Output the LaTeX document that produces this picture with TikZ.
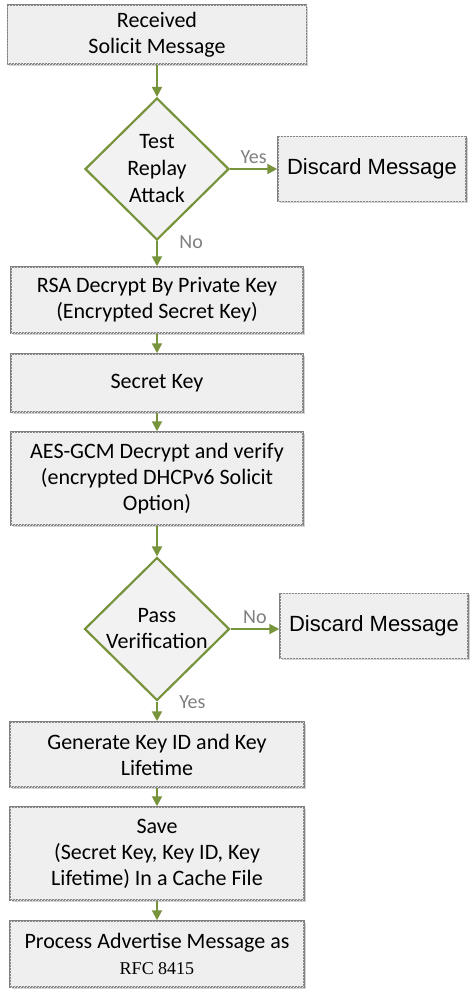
\documentclass[tikz,border=0pt]{standalone}
\usepackage{xcolor}
\usepackage{fontspec}
\setmainfont{Carlito}
\newfontfamily\arialfont{Liberation Sans}
\newfontfamily\timesfont{Liberation Serif}
\usetikzlibrary{positioning,shapes,shadows,patterns}
\usetikzlibrary{arrows.meta,arrows}
\definecolor{olivegreen}{HTML}{77933C}
\definecolor{boxgray}{HTML}{ECECEC}
\definecolor{stripegray}{HTML}{F6F6F6}
\definecolor{edgegray}{HTML}{7F7F7F}
\tikzset{step box/.style={rectangle,draw=edgegray,line width=1.5pt,fill=boxgray,
    postaction={pattern=north east lines,pattern color=stripegray},
    drop shadow={shadow xshift=1.5pt,shadow yshift=-1.5pt,opacity=0.35,fill=gray},
    minimum width=292pt,align=center,font=\fontsize{22}{26}\selectfont,inner sep=0pt},
  test node/.style={diamond,draw=olivegreen,line width=2.2pt,fill=boxgray!70,
    minimum width=144pt,minimum height=142pt,inner sep=0pt},
  drop box/.style={step box,minimum width=188pt,minimum height=65pt,font=\arialfont\fontsize{22}{26}\selectfont},
  flow/.style={draw=olivegreen,line width=2pt,-{Triangle[length=10pt,width=10pt]},color=olivegreen},
  answer/.style={font=\fontsize{20}{24}\selectfont,text=edgegray}}

\begin{document}
\begin{tikzpicture}[x=1pt,y=1pt,auto, on grid]
      \useasboundingbox (0,0) rectangle (474,-996);
      \node[step box,minimum width=299pt,minimum height=59pt] (recv) at (157,-34.5) {Received\\Solicit Message};
      \node[test node] (replay) [below = 134.5pt of recv] {};
      \node[align=center,font=\fontsize{22}{27}\selectfont] (replaytxt) at (replay) {Test\\Replay\\Attack};
      \node[drop box] (drop1) [right = 215pt of replay] {Discard Message};
      \node[step box,minimum height=66pt] (rsa) [below = 131pt of replay] {RSA Decrypt By Private Key\\(Encrypted Secret Key)};
      \node[step box,minimum height=58pt] (secret) [below = 83pt of rsa] {Secret Key};
      \node[step box,minimum height=93pt] (aes) [below = 95.5pt of secret] {AES-GCM Decrypt and verify\\(encrypted DHCPv6 Solicit\\Option)};
      \node[test node,minimum width=145pt,minimum height=143pt] (verify) [below = 150.5pt of aes] {};
      \node[align=center,font=\fontsize{22}{26}\selectfont] (verifytxt) at (verify) {Pass\\Verification};
      \node[drop box] (drop2) [right = 217pt of verify, yshift=3pt] {Discard Message};
      \node[step box,minimum width=294pt,minimum height=65pt] (keyid) [below = 125.5pt of verify] {Generate Key ID and Key\\Lifetime};
      \node[step box,minimum width=294pt,minimum height=93pt] (save) [below = 99pt of keyid] {Save\\(Secret Key, Key ID, Key\\Lifetime) In a Cache File};
      \node[step box,minimum width=294pt,minimum height=66pt] (advert) [below = 100.5pt of save] {Process Advertise Message as\\{\timesfont\fontsize{18}{26}\selectfont RFC 8415}};
      % connectors
      \draw[flow] (recv) -- (replay);
      \draw[flow] (replay) -- node[answer,pos=0.5,above=1pt] {Yes} (drop1);
      \draw[flow] (replay) -- node[answer,pos=0.05,right=18pt] {No} (rsa);
      \draw[flow] (rsa) -- (secret);
      \draw[flow] (secret) -- (aes);
      \draw[flow] (aes) -- (verify);
      \draw[flow] (verify.east) -- node[answer,pos=0.5,above=1pt] {No} (drop2.west |- verify.east);
      \draw[flow] (verify) -- node[answer,pos=0.05,right=18pt] {Yes} (keyid);
      \draw[flow] (keyid) -- (save);
      \draw[flow] (save) -- (advert);
    \end{tikzpicture}
\end{document}
